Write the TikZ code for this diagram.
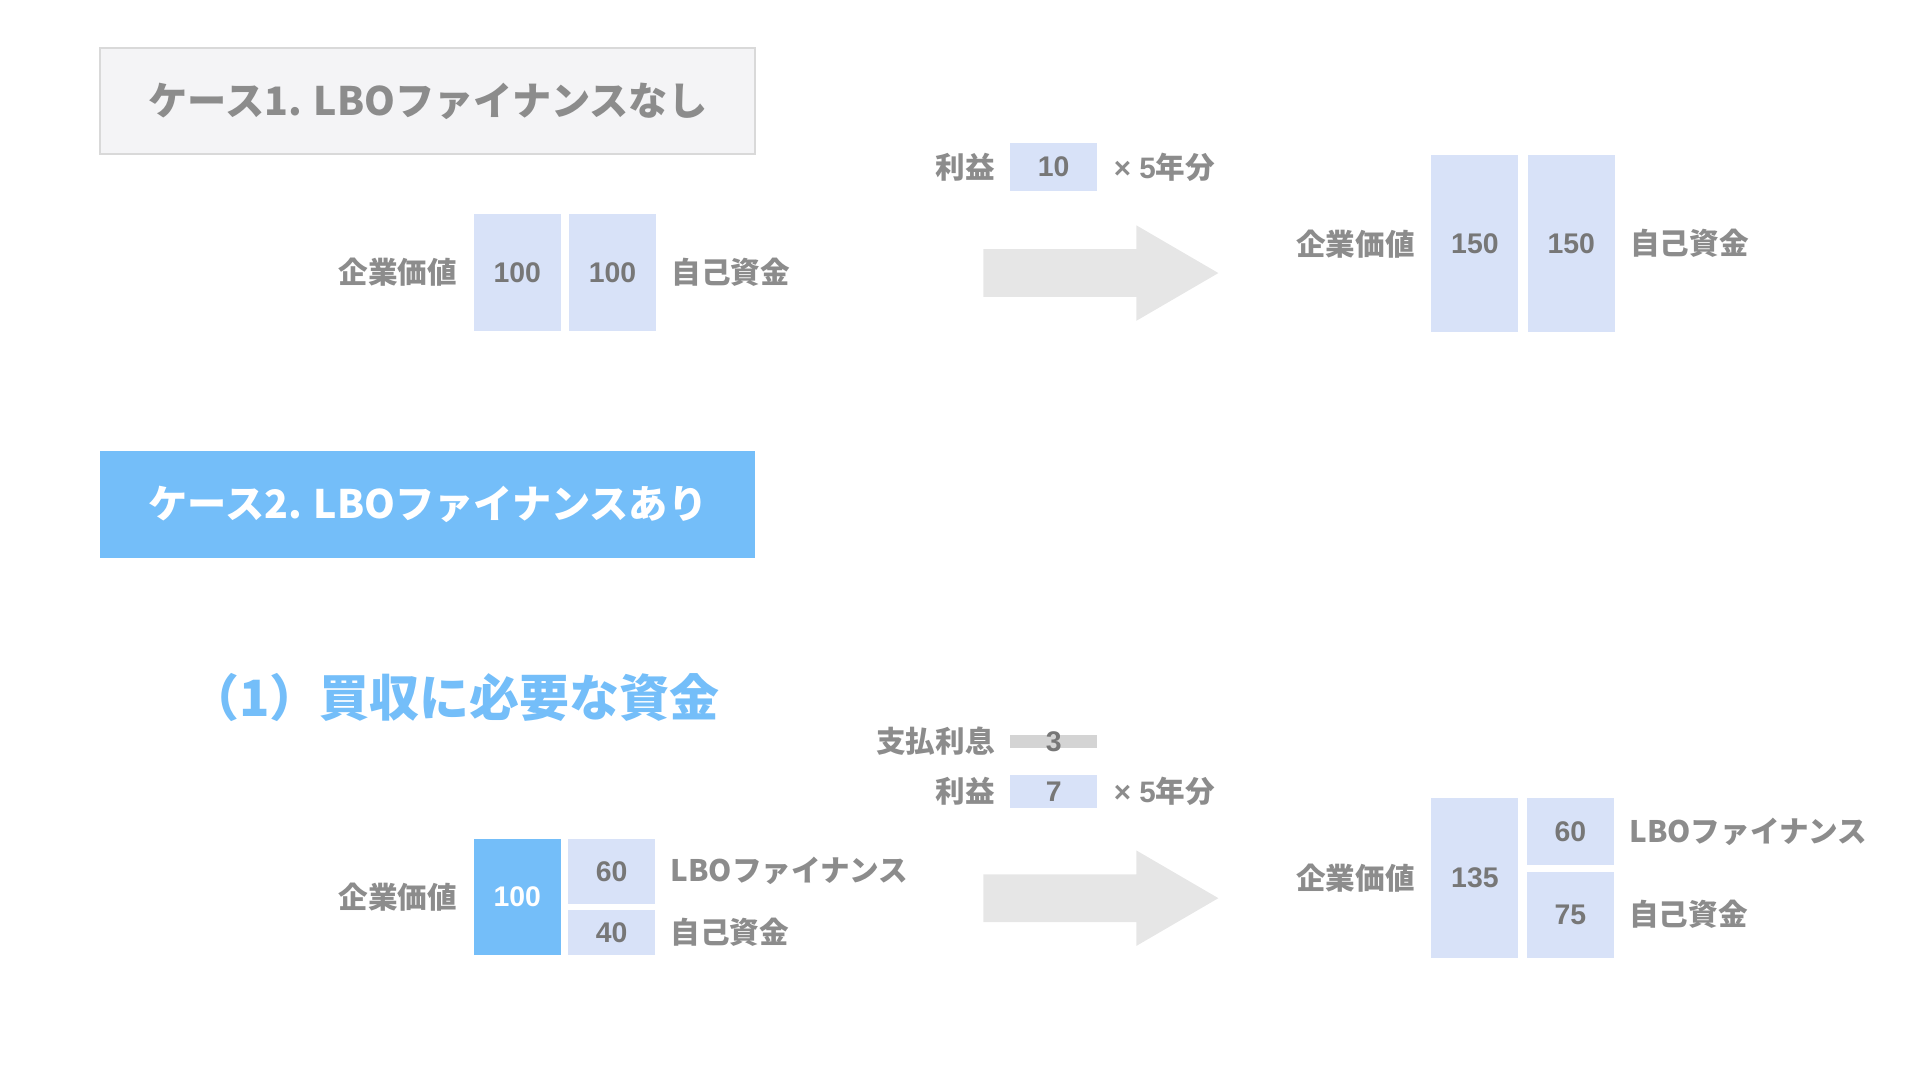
\documentclass[tikz,border=0pt]{standalone}
\usepackage{fontspec}
\setmainfont{Noto Sans CJK JP}
\newfontfamily\numfont{Liberation Sans}
\usetikzlibrary{positioning}

\definecolor{txtgray}{HTML}{8C8C8C}
\definecolor{numgray}{HTML}{777777}
\definecolor{paleblue}{HTML}{D8E2F8}
\definecolor{skyblue}{HTML}{74BEF9}
\definecolor{arrowgray}{HTML}{E6E6E6}
\definecolor{headfill}{HTML}{F4F4F6}
\definecolor{headline}{HTML}{D9D9D9}
\definecolor{bargray}{HTML}{D4D4D4}

\tikzset{
  lbl/.style={text=txtgray, font=\fontsize{14.8pt}{16pt}\selectfont\bfseries, inner sep=0pt},
  numtxt/.style={text=numgray, font=\numfont\fontsize{14.2pt}{16pt}\selectfont\bfseries, inner sep=0pt},
  num/.style={numtxt, fill=paleblue, minimum width=43.5pt},
  header/.style={minimum width=327.5pt, font=\fontsize{19.6pt}{22pt}\selectfont\bfseries, inner sep=0pt},
}

\begin{document}
\begin{tikzpicture}[x=0.6122pt,y=-0.6122pt]
\useasboundingbox (0,0) rectangle (1568,882);

% case 1
\node [header, fill=headfill, draw=headline, line width=1pt, text=txtgray, minimum height=53.3pt] (case1) at (349.5,82.5) {ケース1. LBOファイナンスなし};

\node [num, minimum height=58.2pt] (ev1) at (422.5,222.5) {100};
\node [num, minimum height=58.2pt, right=3.7pt of ev1] (eq1) {100};
\node [lbl, left=8pt of ev1] (ev1lbl) {企業価値};
\node [lbl, right=7.3pt of eq1] (eq1lbl) {自己資金};

\node [num, minimum height=23.9pt] (profit1) at (860.5,136.5) {10};
\node [lbl, left=7.3pt of profit1] (profit1lbl) {利益};
\node [lbl, right=8pt of profit1] (years1) {{\numfont × 5}年分};

\node [num, minimum height=88.2pt] (ev2) at (1204.5,199) {150};
\node [num, minimum height=88.2pt, right=4.3pt of ev2] (eq2) {150};
\node [lbl, left=8pt of ev2] (ev2lbl) {企業価値};
\node [lbl, right=7.3pt of eq2] (eq2lbl) {自己資金};

% case 2
\node [header, fill=skyblue, text=white, minimum height=53.9pt] (case2) at (349.5,412) {ケース2. LBOファイナンスあり};
\node [text=skyblue, font=\fontsize{25pt}{30pt}\selectfont\bfseries, anchor=east, inner sep=0pt] (need) at (588,570) {（1）買収に必要な資金};

\node [fill=bargray, minimum width=43.5pt, minimum height=6.7pt, inner sep=0pt] (intbar) at (860.5,605.5) {};
\node [numtxt] (interest) at (intbar) {3};
\node [lbl, left=7.3pt of intbar.west, anchor=east] (interestlbl) {支払利息};

\node [num, minimum height=16.5pt] (profit2) at (860.5,646.5) {7};
\node [lbl, left=7.3pt of profit2] (profit2lbl) {利益};
\node [lbl, right=8pt of profit2] (years2) {{\numfont × 5}年分};

\node [num, fill=skyblue, text=white, minimum height=58.2pt] (ev3) at (422.5,732.5) {100};
\node [num, minimum height=32.4pt] (debt3) at (499.5,711.5) {60};
\node [num, minimum height=22.7pt] (eq3) at (499.5,761.5) {40};
\node [lbl, left=8pt of ev3] (ev3lbl) {企業価値};
\node [lbl, right=7.3pt of debt3] (debt3lbl) {LBOファイナンス};
\node [lbl, right=7.3pt of eq3] (eq3lbl) {自己資金};

\node [num, minimum height=79.6pt] (ev4) at (1204.5,717) {135};
\node [num, minimum height=33.1pt] (debt4) at (1282.5,679) {60};
\node [num, minimum height=42.9pt] (eq4) at (1282.5,747) {75};
\node [lbl, left=8pt of ev4] (ev4lbl) {企業価値};
\node [lbl, right=7.3pt of debt4] (debt4lbl) {LBOファイナンス};
\node [lbl, right=7.3pt of eq4] (eq4lbl) {自己資金};

% big arrows
\foreach \y in {223,733.5}
  \fill [arrowgray] (803,\y-19.5) -- (928,\y-19.5) -- (928,\y-39) -- (995,\y) -- (928,\y+39) -- (928,\y+19.5) -- (803,\y+19.5) -- cycle;
\end{tikzpicture}
\end{document}
